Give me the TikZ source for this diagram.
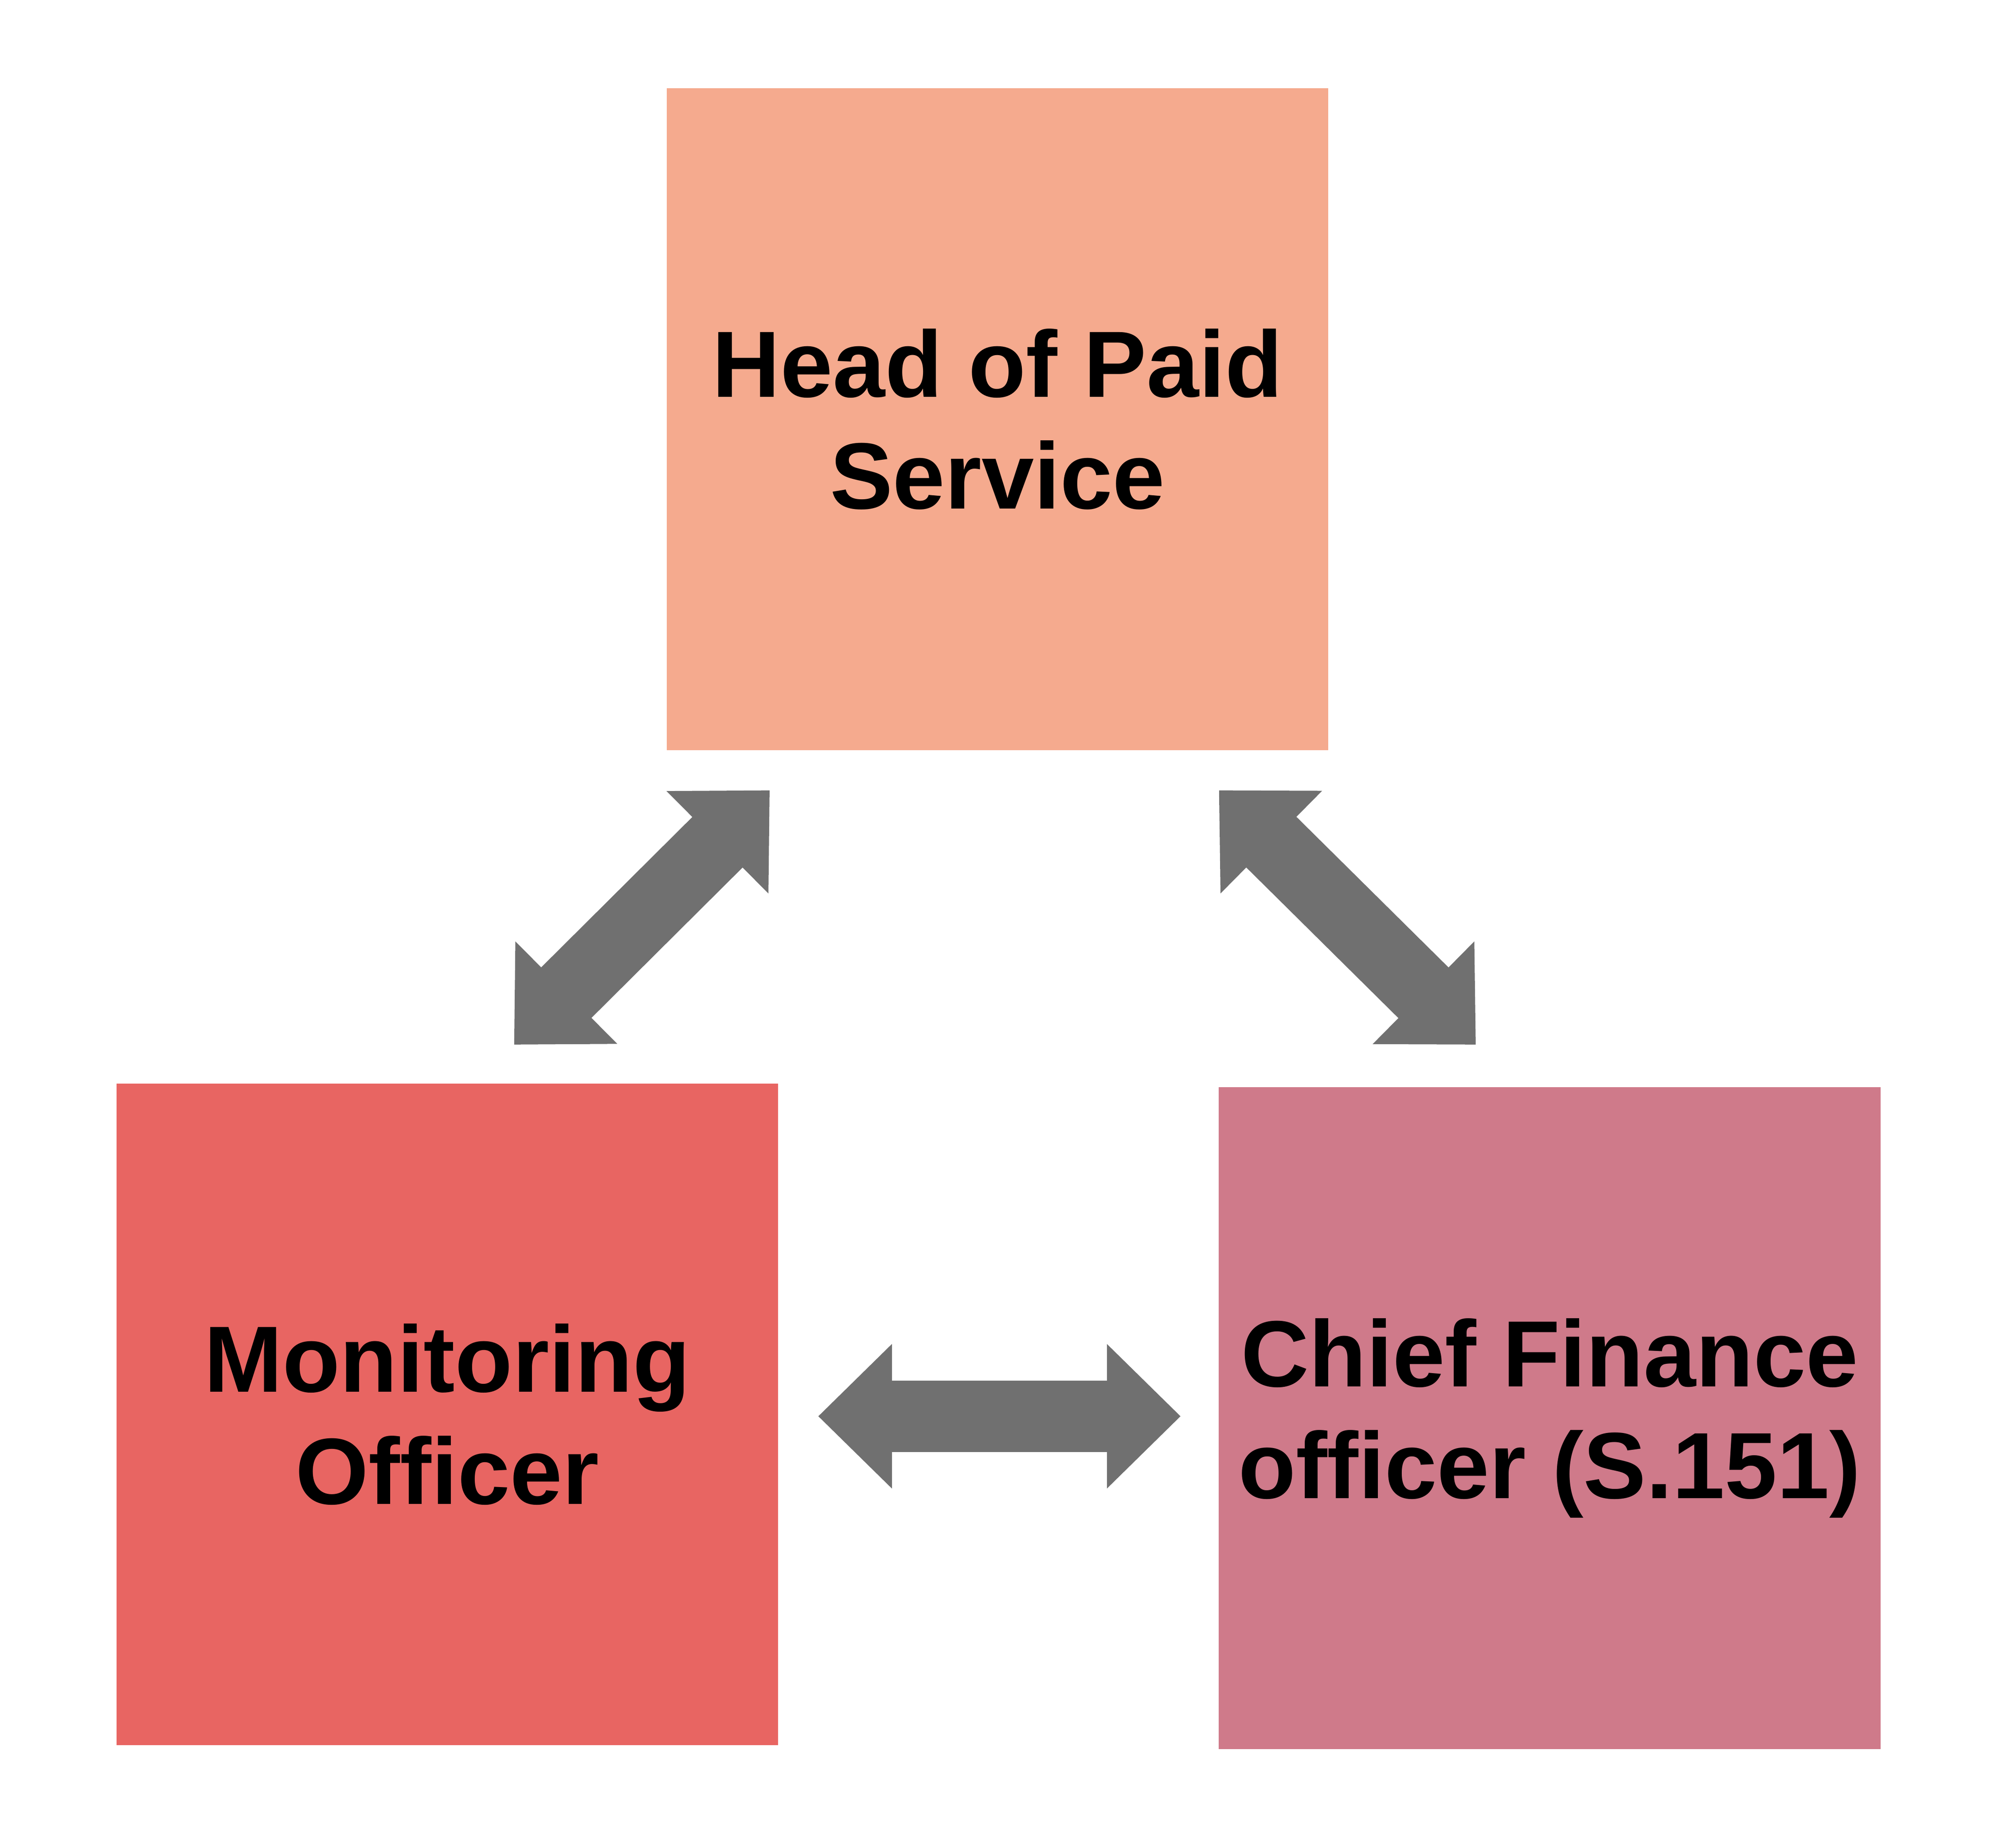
\documentclass[tikz,border=0pt]{standalone}
\usepackage{fontspec}
\setmainfont{Liberation Sans}
\usetikzlibrary{arrows.meta}
\definecolor{headcol}{HTML}{F5AA8E}
\definecolor{moncol}{HTML}{E86562}
\definecolor{chiefcol}{HTML}{CF7A8A}
\definecolor{linkcol}{HTML}{707070}
\tikzset{
    officebox/.style = {minimum size = 260pt, inner sep = 0pt, align = center,
        font = \fontsize{37pt}{44pt}\selectfont\bfseries},
    link/.style = {draw = linkcol, line width = 28pt,
        {Triangle[length = 29pt, width = 55pt]}-{Triangle[length = 29pt, width = 55pt]}}
}
\begin{document}
\begin{tikzpicture}[x = 0.5pt, y = -0.5pt]
    \useasboundingbox (0,0) rectangle (1568,1452);

    \node[officebox, fill = headcol] (head) at (784,329.5) {Head of Paid\\Service};
    \node[officebox, fill = moncol] (mon) at (351.5,1111.5) {Monitoring\\Officer};
    \node[officebox, fill = chiefcol] (chief) at (1218,1114.5) {Chief Finance\\officer (S.151)};

    \coordinate (headL) at (605,621);
    \coordinate (monT) at (404,821);
    \coordinate (headR) at (958,621);
    \coordinate (chiefT) at (1160,821);
    \coordinate (monR) at (643,1113);
    \coordinate (chiefL) at (928,1113);

    \draw[link] (monT) -- (headL);
    \draw[link] (headR) -- (chiefT);
    \draw[link] (monR) -- (chiefL);
\end{tikzpicture}
\end{document}
